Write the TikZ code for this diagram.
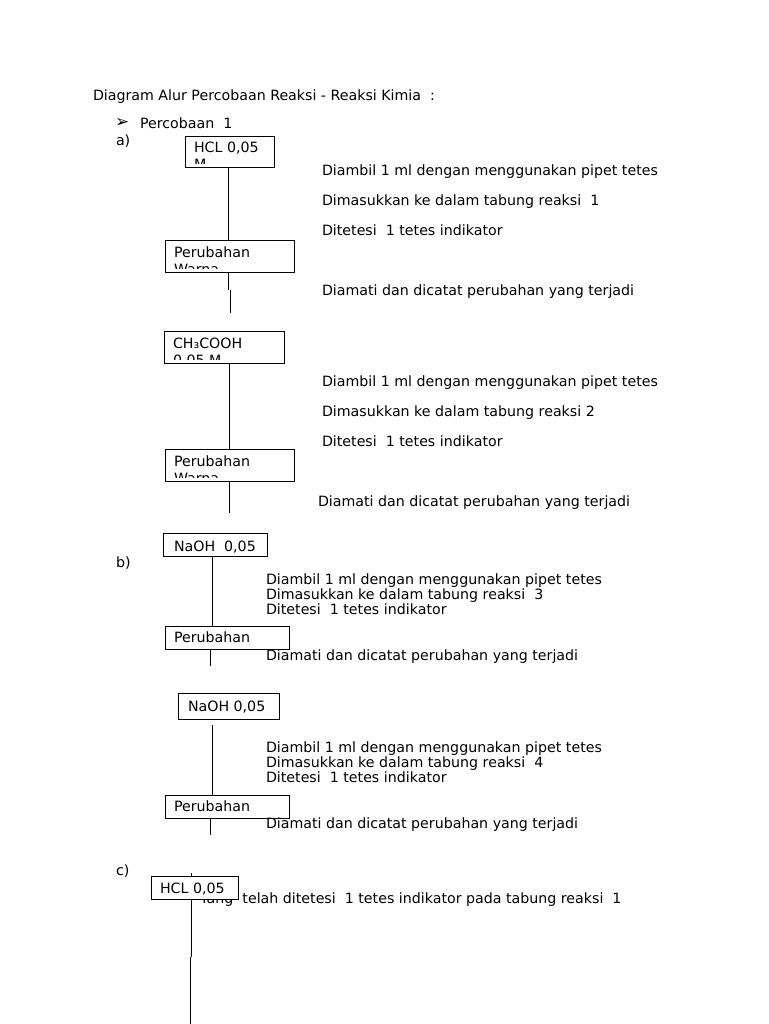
\documentclass[tikz,border=0pt]{standalone}
\usepackage{fontspec}
\setmainfont{DejaVu Sans}
\usetikzlibrary{calc, positioning}

\begin{document}
\begin{tikzpicture}[x=1pt,y=-1pt,font=\fontsize{14.2}{17}\selectfont]
\tikzset{every node/.style={inner sep=0mm, outer sep=0mm}}

\tikzstyle{box}=[rectangle,draw=black,fill=white,line width=1pt,anchor=north west]
\tikzstyle{txt}=[anchor=base west]
\tikzstyle{stem}=[line width=1pt]

\useasboundingbox (0,0) rectangle (768,1024);

% heading
\node[txt] (title) at (93,101) {Diagram Alur Percobaan Reaksi - Reaksi Kimia\ \ :};
\node[txt, font=\fontsize{17}{18}\selectfont] (bullet) at (115,128) {➢};
\node[txt] (percobaan) at (140,129) {Percobaan\ \ 1};
\node[txt] (label a) at (116,146) {a)};
\node[txt] (label b) at (116,567) {b)};
\node[txt] (label c) at (116,875) {c)};

% part c: stem behind the box
\coordinate (top c) at (191,873);
\coordinate (kink c) at (190,957);
\coordinate (tail c) at (190,1024);
\draw[stem] (top c) -- (top c |- kink c);
\draw[stem] (kink c) -- (tail c);
\node[txt] (step c) at (200,903) {Yang\ \ telah ditetesi\ \ 1 tetes indikator pada tabung reaksi\ \ 1};

% boxes
\node[box, minimum width=89pt, minimum height=31pt] (hcl a) at (185,137) {};
\node[box, minimum width=129pt, minimum height=32pt] (warna a) at (165,240) {};
\node[box, minimum width=120pt, minimum height=32pt] (acid a) at (164,331) {};
\node[box, minimum width=129pt, minimum height=32pt] (warna a2) at (165,449) {};
\node[box, minimum width=104pt, minimum height=23pt] (naoh b) at (163,533) {};
\node[box, minimum width=124pt, minimum height=23pt] (warna b) at (165,626) {};
\node[box, minimum width=101pt, minimum height=26pt] (naoh b2) at (178,693) {};
\node[box, minimum width=124pt, minimum height=23pt] (warna b2) at (165,795) {};
\node[box, minimum width=87pt, minimum height=23pt] (hcl c) at (151,876) {};

% box texts, second lines cut off inside the box
\begin{scope}
    \clip (hcl a.north west) rectangle ([yshift=4pt]hcl a.south east);
    \node[txt] (hcl a text) at (194,153) {HCL 0,05};
    \node[txt] (hcl a unit) at (194,170) {M};
\end{scope}
\begin{scope}
    \clip (warna a.north west) rectangle ([yshift=4pt]warna a.south east);
    \node[txt] (warna a text) at (174,257) {Perubahan};
    \node[txt] (warna a more) at (174,274) {Warna};
\end{scope}
\begin{scope}
    \clip (acid a.north west) rectangle ([yshift=4pt]acid a.south east);
    \node[txt] (acid a text) at (173,348) {CH₃COOH};
    \node[txt] (acid a unit) at (173,365) {0,05 M};
\end{scope}
\begin{scope}
    \clip (warna a2.north west) rectangle ([yshift=4pt]warna a2.south east);
    \node[txt] (warna a2 text) at (174,466) {Perubahan};
    \node[txt] (warna a2 more) at (174,483) {Warna};
\end{scope}
\node[txt] (naoh b text) at (174,551) {NaOH\ \ 0,05};
\node[txt] (warna b text) at (174,642) {Perubahan};
\node[txt] (naoh b2 text) at (188,711) {NaOH 0,05};
\node[txt] (warna b2 text) at (174,811) {Perubahan};
\node[txt] (hcl c text) at (160,893) {HCL 0,05};

% stems
\coordinate (stem a) at (228,0);
\coordinate (kink a) at (230,290);
\coordinate (tail a) at (230,313);
\draw[stem] (hcl a.south -| stem a) -- (warna a.north -| stem a);
\draw[stem] (warna a.south -| stem a) -- (kink a -| stem a);
\draw[stem] (kink a) -- (tail a);

\coordinate (stem a2) at (229,513);
\draw[stem] (acid a.south -| stem a2) -- (warna a2.north -| stem a2);
\draw[stem] (warna a2.south -| stem a2) -- (stem a2);

\coordinate (stem b) at (212,0);
\coordinate (tail b) at (210,666);
\draw[stem] (naoh b.south -| stem b) -- (warna b.north -| stem b);
\draw[stem] (warna b.south -| tail b) -- (tail b);

\coordinate (stem b2) at (212,725);
\coordinate (tail b2) at (210,835);
\draw[stem] (stem b2) -- (warna b2.north -| stem b2);
\draw[stem] (warna b2.south -| tail b2) -- (tail b2);

% steps, part a
\node[txt] (take a) at (322,176) {Diambil 1 ml dengan menggunakan pipet tetes};
\node[txt] (put a) at (322,206) {Dimasukkan ke dalam tabung reaksi\ \ 1};
\node[txt] (drop a) at (322,236) {Ditetesi\ \ 1 tetes indikator};
\node[txt] (see a) at (322,295) {Diamati dan dicatat perubahan yang terjadi};

\node[txt] (take a2) at (322,386) {Diambil 1 ml dengan menggunakan pipet tetes};
\node[txt] (put a2) at (322,416) {Dimasukkan ke dalam tabung reaksi 2};
\node[txt] (drop a2) at (322,446) {Ditetesi\ \ 1 tetes indikator};
\node[txt] (see a2) at (318,506) {Diamati dan dicatat perubahan yang terjadi};

% steps, part b
\node[txt] (take b) at (266,584) {Diambil 1 ml dengan menggunakan pipet tetes};
\node[txt] (put b) at (266,599) {Dimasukkan ke dalam tabung reaksi\ \ 3};
\node[txt] (drop b) at (266,614) {Ditetesi\ \ 1 tetes indikator};
\node[txt] (see b) at (266,660) {Diamati dan dicatat perubahan yang terjadi};

\node[txt] (take b2) at (266,752) {Diambil 1 ml dengan menggunakan pipet tetes};
\node[txt] (put b2) at (266,767) {Dimasukkan ke dalam tabung reaksi\ \ 4};
\node[txt] (drop b2) at (266,782) {Ditetesi\ \ 1 tetes indikator};
\node[txt] (see b2) at (266,828) {Diamati dan dicatat perubahan yang terjadi};

\end{tikzpicture}
\end{document}
